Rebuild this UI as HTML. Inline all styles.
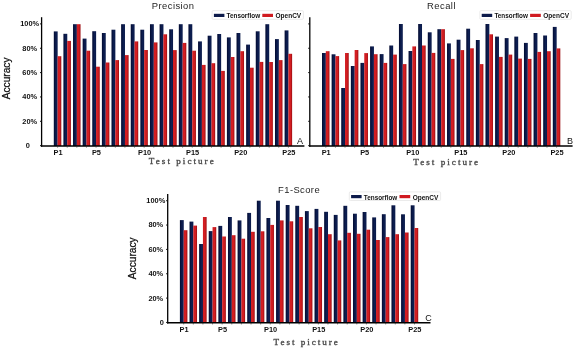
<!DOCTYPE html>
<html><head><meta charset="utf-8"><style>
html,body{margin:0;padding:0;background:#fff;width:575px;height:349px;overflow:hidden}
svg{display:block;will-change:transform}
.tk{font-family:"Liberation Sans",sans-serif;font-weight:bold;font-size:7.4px;fill:#111}
.ti{font-family:"Liberation Sans",sans-serif;font-size:9.4px;fill:#1e1e1e}
.sl{font-family:"Liberation Sans",sans-serif;font-size:9px;fill:#111}
.lg{font-family:"Liberation Sans",sans-serif;font-weight:bold;font-size:7px;fill:#111}
.ac{font-family:"Liberation Sans",sans-serif;font-size:10.2px;fill:#111;stroke:#111;stroke-width:0.25px}
.xt{font-family:"Liberation Serif",serif;font-size:9.1px;fill:#4a4a4a;stroke:#4a4a4a;stroke-width:0.35px}
</style></head><body>
<svg width="575" height="349" viewBox="0 0 575 349">
<defs><linearGradient id="gn" x1="0" x2="1" y1="0" y2="0"><stop offset="0" stop-color="#020a30"/><stop offset="0.6" stop-color="#0e1f52"/><stop offset="1" stop-color="#0a1a4a"/></linearGradient><linearGradient id="gr" x1="0" x2="1" y1="0" y2="0"><stop offset="0" stop-color="#d01c22"/><stop offset="0.55" stop-color="#d41e22"/><stop offset="1" stop-color="#9c0c10"/></linearGradient></defs>
<rect width="575" height="349" fill="#fff"/>
<rect x="53.8" y="31.4" width="3.85" height="114.6" fill="url(#gn)"/>
<rect x="57.6" y="56.2" width="3.7" height="89.8" fill="url(#gr)"/>
<rect x="63.42" y="33.8" width="3.85" height="112.2" fill="url(#gn)"/>
<rect x="67.22" y="40.9" width="3.7" height="105.1" fill="url(#gr)"/>
<rect x="73.03" y="24.2" width="3.85" height="121.8" fill="url(#gn)"/>
<rect x="76.83" y="24.2" width="3.7" height="121.8" fill="url(#gr)"/>
<rect x="82.65" y="38.6" width="3.85" height="107.4" fill="url(#gn)"/>
<rect x="86.45" y="50.7" width="3.7" height="95.3" fill="url(#gr)"/>
<rect x="92.27" y="31.2" width="3.85" height="114.8" fill="url(#gn)"/>
<rect x="96.07" y="66.7" width="3.7" height="79.3" fill="url(#gr)"/>
<rect x="101.89" y="33" width="3.85" height="113" fill="url(#gn)"/>
<rect x="105.69" y="62.5" width="3.7" height="83.5" fill="url(#gr)"/>
<rect x="111.5" y="29.7" width="3.85" height="116.3" fill="url(#gn)"/>
<rect x="115.3" y="60.1" width="3.7" height="85.9" fill="url(#gr)"/>
<rect x="121.12" y="24.2" width="3.85" height="121.8" fill="url(#gn)"/>
<rect x="124.92" y="55.1" width="3.7" height="90.9" fill="url(#gr)"/>
<rect x="130.74" y="24.2" width="3.85" height="121.8" fill="url(#gn)"/>
<rect x="134.54" y="41.4" width="3.7" height="104.6" fill="url(#gr)"/>
<rect x="140.35" y="29.7" width="3.85" height="116.3" fill="url(#gn)"/>
<rect x="144.15" y="50" width="3.7" height="96" fill="url(#gr)"/>
<rect x="149.97" y="24.2" width="3.85" height="121.8" fill="url(#gn)"/>
<rect x="153.77" y="42.4" width="3.7" height="103.6" fill="url(#gr)"/>
<rect x="159.59" y="24.2" width="3.85" height="121.8" fill="url(#gn)"/>
<rect x="163.39" y="34.3" width="3.7" height="111.7" fill="url(#gr)"/>
<rect x="169.2" y="29.3" width="3.85" height="116.7" fill="url(#gn)"/>
<rect x="173" y="50.1" width="3.7" height="95.9" fill="url(#gr)"/>
<rect x="178.82" y="24.2" width="3.85" height="121.8" fill="url(#gn)"/>
<rect x="182.62" y="42.9" width="3.7" height="103.1" fill="url(#gr)"/>
<rect x="188.44" y="24.2" width="3.85" height="121.8" fill="url(#gn)"/>
<rect x="192.24" y="50.7" width="3.7" height="95.3" fill="url(#gr)"/>
<rect x="198.06" y="41.4" width="3.85" height="104.6" fill="url(#gn)"/>
<rect x="201.86" y="64.9" width="3.7" height="81.1" fill="url(#gr)"/>
<rect x="207.67" y="35.7" width="3.85" height="110.3" fill="url(#gn)"/>
<rect x="211.47" y="63.2" width="3.7" height="82.8" fill="url(#gr)"/>
<rect x="217.29" y="34" width="3.85" height="112" fill="url(#gn)"/>
<rect x="221.09" y="70.9" width="3.7" height="75.1" fill="url(#gr)"/>
<rect x="226.91" y="37.4" width="3.85" height="108.6" fill="url(#gn)"/>
<rect x="230.71" y="57" width="3.7" height="89" fill="url(#gr)"/>
<rect x="236.52" y="33" width="3.85" height="113" fill="url(#gn)"/>
<rect x="240.32" y="51.2" width="3.7" height="94.8" fill="url(#gr)"/>
<rect x="246.14" y="44.6" width="3.85" height="101.4" fill="url(#gn)"/>
<rect x="249.94" y="67.7" width="3.7" height="78.3" fill="url(#gr)"/>
<rect x="255.76" y="31.3" width="3.85" height="114.7" fill="url(#gn)"/>
<rect x="259.56" y="61.9" width="3.7" height="84.1" fill="url(#gr)"/>
<rect x="265.37" y="24.2" width="3.85" height="121.8" fill="url(#gn)"/>
<rect x="269.17" y="62" width="3.7" height="84" fill="url(#gr)"/>
<rect x="274.99" y="39.1" width="3.85" height="106.9" fill="url(#gn)"/>
<rect x="278.79" y="60.1" width="3.7" height="85.9" fill="url(#gr)"/>
<rect x="284.61" y="30.4" width="3.85" height="115.6" fill="url(#gn)"/>
<rect x="288.41" y="53.8" width="3.7" height="92.2" fill="url(#gr)"/>
<line x1="41.6" y1="17.2" x2="41.6" y2="146.7" stroke="#000" stroke-width="1.3"/>
<line x1="40.95" y1="146" x2="304.4" y2="146" stroke="#000" stroke-width="1.4"/>
<line x1="57.6" y1="146" x2="57.6" y2="147.6" stroke="#333" stroke-width="0.7"/>
<line x1="67.22" y1="146" x2="67.22" y2="147.6" stroke="#333" stroke-width="0.7"/>
<line x1="76.83" y1="146" x2="76.83" y2="147.6" stroke="#333" stroke-width="0.7"/>
<line x1="86.45" y1="146" x2="86.45" y2="147.6" stroke="#333" stroke-width="0.7"/>
<line x1="96.07" y1="146" x2="96.07" y2="147.6" stroke="#333" stroke-width="0.7"/>
<line x1="105.69" y1="146" x2="105.69" y2="147.6" stroke="#333" stroke-width="0.7"/>
<line x1="115.3" y1="146" x2="115.3" y2="147.6" stroke="#333" stroke-width="0.7"/>
<line x1="124.92" y1="146" x2="124.92" y2="147.6" stroke="#333" stroke-width="0.7"/>
<line x1="134.54" y1="146" x2="134.54" y2="147.6" stroke="#333" stroke-width="0.7"/>
<line x1="144.15" y1="146" x2="144.15" y2="147.6" stroke="#333" stroke-width="0.7"/>
<line x1="153.77" y1="146" x2="153.77" y2="147.6" stroke="#333" stroke-width="0.7"/>
<line x1="163.39" y1="146" x2="163.39" y2="147.6" stroke="#333" stroke-width="0.7"/>
<line x1="173" y1="146" x2="173" y2="147.6" stroke="#333" stroke-width="0.7"/>
<line x1="182.62" y1="146" x2="182.62" y2="147.6" stroke="#333" stroke-width="0.7"/>
<line x1="192.24" y1="146" x2="192.24" y2="147.6" stroke="#333" stroke-width="0.7"/>
<line x1="201.86" y1="146" x2="201.86" y2="147.6" stroke="#333" stroke-width="0.7"/>
<line x1="211.47" y1="146" x2="211.47" y2="147.6" stroke="#333" stroke-width="0.7"/>
<line x1="221.09" y1="146" x2="221.09" y2="147.6" stroke="#333" stroke-width="0.7"/>
<line x1="230.71" y1="146" x2="230.71" y2="147.6" stroke="#333" stroke-width="0.7"/>
<line x1="240.32" y1="146" x2="240.32" y2="147.6" stroke="#333" stroke-width="0.7"/>
<line x1="249.94" y1="146" x2="249.94" y2="147.6" stroke="#333" stroke-width="0.7"/>
<line x1="259.56" y1="146" x2="259.56" y2="147.6" stroke="#333" stroke-width="0.7"/>
<line x1="269.17" y1="146" x2="269.17" y2="147.6" stroke="#333" stroke-width="0.7"/>
<line x1="278.79" y1="146" x2="278.79" y2="147.6" stroke="#333" stroke-width="0.7"/>
<line x1="288.41" y1="146" x2="288.41" y2="147.6" stroke="#333" stroke-width="0.7"/>
<line x1="40" y1="23.9" x2="41.6" y2="23.9" stroke="#111" stroke-width="1"/>
<line x1="40" y1="48.25" x2="41.6" y2="48.25" stroke="#111" stroke-width="1"/>
<line x1="40" y1="72.6" x2="41.6" y2="72.6" stroke="#111" stroke-width="1"/>
<line x1="40" y1="96.95" x2="41.6" y2="96.95" stroke="#111" stroke-width="1"/>
<line x1="40" y1="121.3" x2="41.6" y2="121.3" stroke="#111" stroke-width="1"/>
<line x1="40" y1="145.65" x2="41.6" y2="145.65" stroke="#111" stroke-width="1"/>
<text x="58" y="154.5" class="tk" text-anchor="middle">P1</text>
<text x="96.47" y="154.5" class="tk" text-anchor="middle">P5</text>
<text x="144.55" y="154.5" class="tk" text-anchor="middle">P10</text>
<text x="192.64" y="154.5" class="tk" text-anchor="middle">P15</text>
<text x="240.72" y="154.5" class="tk" text-anchor="middle">P20</text>
<text x="288.81" y="154.5" class="tk" text-anchor="middle">P25</text>
<text x="29.7" y="26.2" class="tk" text-anchor="middle">100%</text>
<text x="29.7" y="50.58" class="tk" text-anchor="middle">80%</text>
<text x="29.7" y="74.96" class="tk" text-anchor="middle">60%</text>
<text x="29.7" y="99.34" class="tk" text-anchor="middle">40%</text>
<text x="29.7" y="123.72" class="tk" text-anchor="middle">20%</text>
<text x="27.9" y="148.1" class="tk" text-anchor="middle">0</text>
<rect x="322" y="53" width="3.85" height="93" fill="url(#gn)"/>
<rect x="325.8" y="51.2" width="3.7" height="94.8" fill="url(#gr)"/>
<rect x="331.62" y="54.3" width="3.85" height="91.7" fill="url(#gn)"/>
<rect x="335.42" y="56.1" width="3.7" height="89.9" fill="url(#gr)"/>
<rect x="341.23" y="88" width="3.85" height="58" fill="url(#gn)"/>
<rect x="345.03" y="53" width="3.7" height="93" fill="url(#gr)"/>
<rect x="350.85" y="66" width="3.85" height="80" fill="url(#gn)"/>
<rect x="354.65" y="50" width="3.7" height="96" fill="url(#gr)"/>
<rect x="360.47" y="62.9" width="3.85" height="83.1" fill="url(#gn)"/>
<rect x="364.27" y="53.1" width="3.7" height="92.9" fill="url(#gr)"/>
<rect x="370.08" y="46.4" width="3.85" height="99.6" fill="url(#gn)"/>
<rect x="373.88" y="54.2" width="3.7" height="91.8" fill="url(#gr)"/>
<rect x="379.7" y="54.1" width="3.85" height="91.9" fill="url(#gn)"/>
<rect x="383.5" y="62.9" width="3.7" height="83.1" fill="url(#gr)"/>
<rect x="389.32" y="45.5" width="3.85" height="100.5" fill="url(#gn)"/>
<rect x="393.12" y="54.6" width="3.7" height="91.4" fill="url(#gr)"/>
<rect x="398.94" y="24" width="3.85" height="122" fill="url(#gn)"/>
<rect x="402.74" y="64.1" width="3.7" height="81.9" fill="url(#gr)"/>
<rect x="408.55" y="51" width="3.85" height="95" fill="url(#gn)"/>
<rect x="412.35" y="46.4" width="3.7" height="99.6" fill="url(#gr)"/>
<rect x="418.17" y="24" width="3.85" height="122" fill="url(#gn)"/>
<rect x="421.97" y="45.5" width="3.7" height="100.5" fill="url(#gr)"/>
<rect x="427.79" y="32.3" width="3.85" height="113.7" fill="url(#gn)"/>
<rect x="431.59" y="52.9" width="3.7" height="93.1" fill="url(#gr)"/>
<rect x="437.4" y="29.2" width="3.85" height="116.8" fill="url(#gn)"/>
<rect x="441.2" y="29.2" width="3.7" height="116.8" fill="url(#gr)"/>
<rect x="447.02" y="43.4" width="3.85" height="102.6" fill="url(#gn)"/>
<rect x="450.82" y="58.9" width="3.7" height="87.1" fill="url(#gr)"/>
<rect x="456.64" y="39.7" width="3.85" height="106.3" fill="url(#gn)"/>
<rect x="460.44" y="50.1" width="3.7" height="95.9" fill="url(#gr)"/>
<rect x="466.26" y="28.7" width="3.85" height="117.3" fill="url(#gn)"/>
<rect x="470.06" y="48.3" width="3.7" height="97.7" fill="url(#gr)"/>
<rect x="475.87" y="40" width="3.85" height="106" fill="url(#gn)"/>
<rect x="479.67" y="64.1" width="3.7" height="81.9" fill="url(#gr)"/>
<rect x="485.49" y="24" width="3.85" height="122" fill="url(#gn)"/>
<rect x="489.29" y="34.3" width="3.7" height="111.7" fill="url(#gr)"/>
<rect x="495.11" y="36.6" width="3.85" height="109.4" fill="url(#gn)"/>
<rect x="498.91" y="56.9" width="3.7" height="89.1" fill="url(#gr)"/>
<rect x="504.72" y="38.1" width="3.85" height="107.9" fill="url(#gn)"/>
<rect x="508.52" y="54.6" width="3.7" height="91.4" fill="url(#gr)"/>
<rect x="514.34" y="36.6" width="3.85" height="109.4" fill="url(#gn)"/>
<rect x="518.14" y="58.6" width="3.7" height="87.4" fill="url(#gr)"/>
<rect x="523.96" y="42.9" width="3.85" height="103.1" fill="url(#gn)"/>
<rect x="527.76" y="58.9" width="3.7" height="87.1" fill="url(#gr)"/>
<rect x="533.57" y="33" width="3.85" height="113" fill="url(#gn)"/>
<rect x="537.37" y="51.9" width="3.7" height="94.1" fill="url(#gr)"/>
<rect x="543.19" y="35.5" width="3.85" height="110.5" fill="url(#gn)"/>
<rect x="546.99" y="51.2" width="3.7" height="94.8" fill="url(#gr)"/>
<rect x="552.81" y="26.9" width="3.85" height="119.1" fill="url(#gn)"/>
<rect x="556.61" y="48.4" width="3.7" height="97.6" fill="url(#gr)"/>
<line x1="309.8" y1="17.2" x2="309.8" y2="146.7" stroke="#000" stroke-width="1.3"/>
<line x1="309.15" y1="146" x2="572.6" y2="146" stroke="#000" stroke-width="1.4"/>
<line x1="325.8" y1="146" x2="325.8" y2="147.6" stroke="#333" stroke-width="0.7"/>
<line x1="335.42" y1="146" x2="335.42" y2="147.6" stroke="#333" stroke-width="0.7"/>
<line x1="345.03" y1="146" x2="345.03" y2="147.6" stroke="#333" stroke-width="0.7"/>
<line x1="354.65" y1="146" x2="354.65" y2="147.6" stroke="#333" stroke-width="0.7"/>
<line x1="364.27" y1="146" x2="364.27" y2="147.6" stroke="#333" stroke-width="0.7"/>
<line x1="373.88" y1="146" x2="373.88" y2="147.6" stroke="#333" stroke-width="0.7"/>
<line x1="383.5" y1="146" x2="383.5" y2="147.6" stroke="#333" stroke-width="0.7"/>
<line x1="393.12" y1="146" x2="393.12" y2="147.6" stroke="#333" stroke-width="0.7"/>
<line x1="402.74" y1="146" x2="402.74" y2="147.6" stroke="#333" stroke-width="0.7"/>
<line x1="412.35" y1="146" x2="412.35" y2="147.6" stroke="#333" stroke-width="0.7"/>
<line x1="421.97" y1="146" x2="421.97" y2="147.6" stroke="#333" stroke-width="0.7"/>
<line x1="431.59" y1="146" x2="431.59" y2="147.6" stroke="#333" stroke-width="0.7"/>
<line x1="441.2" y1="146" x2="441.2" y2="147.6" stroke="#333" stroke-width="0.7"/>
<line x1="450.82" y1="146" x2="450.82" y2="147.6" stroke="#333" stroke-width="0.7"/>
<line x1="460.44" y1="146" x2="460.44" y2="147.6" stroke="#333" stroke-width="0.7"/>
<line x1="470.06" y1="146" x2="470.06" y2="147.6" stroke="#333" stroke-width="0.7"/>
<line x1="479.67" y1="146" x2="479.67" y2="147.6" stroke="#333" stroke-width="0.7"/>
<line x1="489.29" y1="146" x2="489.29" y2="147.6" stroke="#333" stroke-width="0.7"/>
<line x1="498.91" y1="146" x2="498.91" y2="147.6" stroke="#333" stroke-width="0.7"/>
<line x1="508.52" y1="146" x2="508.52" y2="147.6" stroke="#333" stroke-width="0.7"/>
<line x1="518.14" y1="146" x2="518.14" y2="147.6" stroke="#333" stroke-width="0.7"/>
<line x1="527.76" y1="146" x2="527.76" y2="147.6" stroke="#333" stroke-width="0.7"/>
<line x1="537.37" y1="146" x2="537.37" y2="147.6" stroke="#333" stroke-width="0.7"/>
<line x1="546.99" y1="146" x2="546.99" y2="147.6" stroke="#333" stroke-width="0.7"/>
<line x1="556.61" y1="146" x2="556.61" y2="147.6" stroke="#333" stroke-width="0.7"/>
<line x1="308.2" y1="23.9" x2="309.8" y2="23.9" stroke="#111" stroke-width="1"/>
<line x1="308.2" y1="48.25" x2="309.8" y2="48.25" stroke="#111" stroke-width="1"/>
<line x1="308.2" y1="72.6" x2="309.8" y2="72.6" stroke="#111" stroke-width="1"/>
<line x1="308.2" y1="96.95" x2="309.8" y2="96.95" stroke="#111" stroke-width="1"/>
<line x1="308.2" y1="121.3" x2="309.8" y2="121.3" stroke="#111" stroke-width="1"/>
<line x1="308.2" y1="145.65" x2="309.8" y2="145.65" stroke="#111" stroke-width="1"/>
<text x="326.2" y="154.5" class="tk" text-anchor="middle">P1</text>
<text x="364.67" y="154.5" class="tk" text-anchor="middle">P5</text>
<text x="412.75" y="154.5" class="tk" text-anchor="middle">P10</text>
<text x="460.84" y="154.5" class="tk" text-anchor="middle">P15</text>
<text x="508.92" y="154.5" class="tk" text-anchor="middle">P20</text>
<text x="557.01" y="154.5" class="tk" text-anchor="middle">P25</text>
<rect x="179.9" y="220.1" width="3.85" height="102.7" fill="url(#gn)"/>
<rect x="183.7" y="230.2" width="3.7" height="92.6" fill="url(#gr)"/>
<rect x="189.52" y="221.6" width="3.85" height="101.2" fill="url(#gn)"/>
<rect x="193.32" y="225.6" width="3.7" height="97.2" fill="url(#gr)"/>
<rect x="199.13" y="244" width="3.85" height="78.8" fill="url(#gn)"/>
<rect x="202.93" y="217" width="3.7" height="105.8" fill="url(#gr)"/>
<rect x="208.75" y="231.1" width="3.85" height="91.7" fill="url(#gn)"/>
<rect x="212.55" y="227.1" width="3.7" height="95.7" fill="url(#gr)"/>
<rect x="218.37" y="225.9" width="3.85" height="96.9" fill="url(#gn)"/>
<rect x="222.17" y="236.5" width="3.7" height="86.3" fill="url(#gr)"/>
<rect x="227.98" y="217" width="3.85" height="105.8" fill="url(#gn)"/>
<rect x="231.78" y="235.2" width="3.7" height="87.6" fill="url(#gr)"/>
<rect x="237.6" y="220.4" width="3.85" height="102.4" fill="url(#gn)"/>
<rect x="241.4" y="238.7" width="3.7" height="84.1" fill="url(#gr)"/>
<rect x="247.22" y="212.9" width="3.85" height="109.9" fill="url(#gn)"/>
<rect x="251.02" y="231.8" width="3.7" height="91" fill="url(#gr)"/>
<rect x="256.84" y="200.7" width="3.85" height="122.1" fill="url(#gn)"/>
<rect x="260.64" y="231.3" width="3.7" height="91.5" fill="url(#gr)"/>
<rect x="266.45" y="218" width="3.85" height="104.8" fill="url(#gn)"/>
<rect x="270.25" y="224.9" width="3.7" height="97.9" fill="url(#gr)"/>
<rect x="276.07" y="200.7" width="3.85" height="122.1" fill="url(#gn)"/>
<rect x="279.87" y="220.4" width="3.7" height="102.4" fill="url(#gr)"/>
<rect x="285.69" y="205" width="3.85" height="117.8" fill="url(#gn)"/>
<rect x="289.49" y="221.3" width="3.7" height="101.5" fill="url(#gr)"/>
<rect x="295.3" y="205.8" width="3.85" height="117" fill="url(#gn)"/>
<rect x="299.1" y="217" width="3.7" height="105.8" fill="url(#gr)"/>
<rect x="304.92" y="211.1" width="3.85" height="111.7" fill="url(#gn)"/>
<rect x="308.72" y="228.3" width="3.7" height="94.5" fill="url(#gr)"/>
<rect x="314.54" y="208.9" width="3.85" height="113.9" fill="url(#gn)"/>
<rect x="318.34" y="227" width="3.7" height="95.8" fill="url(#gr)"/>
<rect x="324.16" y="211.8" width="3.85" height="111" fill="url(#gn)"/>
<rect x="327.96" y="234.2" width="3.7" height="88.6" fill="url(#gr)"/>
<rect x="333.77" y="214.9" width="3.85" height="107.9" fill="url(#gn)"/>
<rect x="337.57" y="240.4" width="3.7" height="82.4" fill="url(#gr)"/>
<rect x="343.39" y="205.8" width="3.85" height="117" fill="url(#gn)"/>
<rect x="347.19" y="232.8" width="3.7" height="90" fill="url(#gr)"/>
<rect x="353.01" y="213.7" width="3.85" height="109.1" fill="url(#gn)"/>
<rect x="356.81" y="233.8" width="3.7" height="89" fill="url(#gr)"/>
<rect x="362.62" y="212" width="3.85" height="110.8" fill="url(#gn)"/>
<rect x="366.42" y="229.7" width="3.7" height="93.1" fill="url(#gr)"/>
<rect x="372.24" y="217.4" width="3.85" height="105.4" fill="url(#gn)"/>
<rect x="376.04" y="240" width="3.7" height="82.8" fill="url(#gr)"/>
<rect x="381.86" y="214.2" width="3.85" height="108.6" fill="url(#gn)"/>
<rect x="385.66" y="237.1" width="3.7" height="85.7" fill="url(#gr)"/>
<rect x="391.47" y="205.3" width="3.85" height="117.5" fill="url(#gn)"/>
<rect x="395.27" y="234.2" width="3.7" height="88.6" fill="url(#gr)"/>
<rect x="401.09" y="214.3" width="3.85" height="108.5" fill="url(#gn)"/>
<rect x="404.89" y="232.5" width="3.7" height="90.3" fill="url(#gr)"/>
<rect x="410.71" y="205.3" width="3.85" height="117.5" fill="url(#gn)"/>
<rect x="414.51" y="228" width="3.7" height="94.8" fill="url(#gr)"/>
<line x1="167.7" y1="194" x2="167.7" y2="323.5" stroke="#000" stroke-width="1.3"/>
<line x1="167.05" y1="322.8" x2="430.5" y2="322.8" stroke="#000" stroke-width="1.4"/>
<line x1="183.7" y1="322.8" x2="183.7" y2="324.4" stroke="#333" stroke-width="0.7"/>
<line x1="193.32" y1="322.8" x2="193.32" y2="324.4" stroke="#333" stroke-width="0.7"/>
<line x1="202.93" y1="322.8" x2="202.93" y2="324.4" stroke="#333" stroke-width="0.7"/>
<line x1="212.55" y1="322.8" x2="212.55" y2="324.4" stroke="#333" stroke-width="0.7"/>
<line x1="222.17" y1="322.8" x2="222.17" y2="324.4" stroke="#333" stroke-width="0.7"/>
<line x1="231.78" y1="322.8" x2="231.78" y2="324.4" stroke="#333" stroke-width="0.7"/>
<line x1="241.4" y1="322.8" x2="241.4" y2="324.4" stroke="#333" stroke-width="0.7"/>
<line x1="251.02" y1="322.8" x2="251.02" y2="324.4" stroke="#333" stroke-width="0.7"/>
<line x1="260.64" y1="322.8" x2="260.64" y2="324.4" stroke="#333" stroke-width="0.7"/>
<line x1="270.25" y1="322.8" x2="270.25" y2="324.4" stroke="#333" stroke-width="0.7"/>
<line x1="279.87" y1="322.8" x2="279.87" y2="324.4" stroke="#333" stroke-width="0.7"/>
<line x1="289.49" y1="322.8" x2="289.49" y2="324.4" stroke="#333" stroke-width="0.7"/>
<line x1="299.1" y1="322.8" x2="299.1" y2="324.4" stroke="#333" stroke-width="0.7"/>
<line x1="308.72" y1="322.8" x2="308.72" y2="324.4" stroke="#333" stroke-width="0.7"/>
<line x1="318.34" y1="322.8" x2="318.34" y2="324.4" stroke="#333" stroke-width="0.7"/>
<line x1="327.96" y1="322.8" x2="327.96" y2="324.4" stroke="#333" stroke-width="0.7"/>
<line x1="337.57" y1="322.8" x2="337.57" y2="324.4" stroke="#333" stroke-width="0.7"/>
<line x1="347.19" y1="322.8" x2="347.19" y2="324.4" stroke="#333" stroke-width="0.7"/>
<line x1="356.81" y1="322.8" x2="356.81" y2="324.4" stroke="#333" stroke-width="0.7"/>
<line x1="366.42" y1="322.8" x2="366.42" y2="324.4" stroke="#333" stroke-width="0.7"/>
<line x1="376.04" y1="322.8" x2="376.04" y2="324.4" stroke="#333" stroke-width="0.7"/>
<line x1="385.66" y1="322.8" x2="385.66" y2="324.4" stroke="#333" stroke-width="0.7"/>
<line x1="395.27" y1="322.8" x2="395.27" y2="324.4" stroke="#333" stroke-width="0.7"/>
<line x1="404.89" y1="322.8" x2="404.89" y2="324.4" stroke="#333" stroke-width="0.7"/>
<line x1="414.51" y1="322.8" x2="414.51" y2="324.4" stroke="#333" stroke-width="0.7"/>
<line x1="166.1" y1="200.7" x2="167.7" y2="200.7" stroke="#111" stroke-width="1"/>
<line x1="166.1" y1="225.05" x2="167.7" y2="225.05" stroke="#111" stroke-width="1"/>
<line x1="166.1" y1="249.4" x2="167.7" y2="249.4" stroke="#111" stroke-width="1"/>
<line x1="166.1" y1="273.75" x2="167.7" y2="273.75" stroke="#111" stroke-width="1"/>
<line x1="166.1" y1="298.1" x2="167.7" y2="298.1" stroke="#111" stroke-width="1"/>
<line x1="166.1" y1="322.45" x2="167.7" y2="322.45" stroke="#111" stroke-width="1"/>
<text x="184.1" y="332.3" class="tk" text-anchor="middle">P1</text>
<text x="222.57" y="332.3" class="tk" text-anchor="middle">P5</text>
<text x="270.65" y="332.3" class="tk" text-anchor="middle">P10</text>
<text x="318.74" y="332.3" class="tk" text-anchor="middle">P15</text>
<text x="366.82" y="332.3" class="tk" text-anchor="middle">P20</text>
<text x="414.91" y="332.3" class="tk" text-anchor="middle">P25</text>
<text x="155.8" y="203" class="tk" text-anchor="middle">100%</text>
<text x="155.8" y="227.38" class="tk" text-anchor="middle">80%</text>
<text x="155.8" y="251.76" class="tk" text-anchor="middle">60%</text>
<text x="155.8" y="276.14" class="tk" text-anchor="middle">40%</text>
<text x="155.8" y="300.52" class="tk" text-anchor="middle">20%</text>
<text x="161.9" y="324.9" class="tk" text-anchor="middle">0</text>
<text x="151.8" y="8.6" class="ti" textLength="42.2" lengthAdjust="spacing">Precision</text>
<text x="427" y="8.6" class="ti" textLength="28.5" lengthAdjust="spacing">Recall</text>
<text x="278.1" y="192.7" class="ti" textLength="41.5" lengthAdjust="spacing">F1-Score</text>
<rect x="212.1" y="10.7" width="91.3" height="8.6" fill="#fff" stroke="#e6e6e6" stroke-width="0.8" rx="1"/>
<rect x="213.9" y="13.8" width="10.5" height="3.2" fill="#0c1a4a"/>
<text x="226.6" y="18.3" class="lg" textLength="33.5" lengthAdjust="spacingAndGlyphs">Tensorflow</text>
<rect x="262.3" y="13.8" width="10.7" height="3.2" fill="#d01a20"/>
<text x="275.5" y="18.4" class="lg" textLength="25.7" lengthAdjust="spacingAndGlyphs">OpenCV</text>
<rect x="479.9" y="10.7" width="91.3" height="8.6" fill="#fff" stroke="#e6e6e6" stroke-width="0.8" rx="1"/>
<rect x="481.7" y="13.8" width="10.5" height="3.2" fill="#0c1a4a"/>
<text x="494.4" y="18.3" class="lg" textLength="33.5" lengthAdjust="spacingAndGlyphs">Tensorflow</text>
<rect x="530.1" y="13.8" width="10.7" height="3.2" fill="#d01a20"/>
<text x="543.3" y="18.4" class="lg" textLength="25.7" lengthAdjust="spacingAndGlyphs">OpenCV</text>
<rect x="349.3" y="191.9" width="91.3" height="8.6" fill="#fff" stroke="#e6e6e6" stroke-width="0.8" rx="1"/>
<rect x="351.1" y="195" width="10.5" height="3.2" fill="#0c1a4a"/>
<text x="363.8" y="199.5" class="lg" textLength="33.5" lengthAdjust="spacingAndGlyphs">Tensorflow</text>
<rect x="399.5" y="195" width="10.7" height="3.2" fill="#d01a20"/>
<text x="412.7" y="199.6" class="lg" textLength="25.7" lengthAdjust="spacingAndGlyphs">OpenCV</text>
<text x="297" y="143.8" class="sl">A</text>
<text x="567" y="143.9" class="sl">B</text>
<text x="425.2" y="321.3" class="sl">C</text>
<text transform="translate(10.1,78.4) rotate(-90)" class="ac" text-anchor="middle">Accuracy</text>
<text transform="translate(136.1,258.3) rotate(-90)" class="ac" text-anchor="middle">Accuracy</text>
<text x="148.8" y="163.9" class="xt" textLength="64.9" lengthAdjust="spacing">Test picture</text>
<text x="413.3" y="164.8" class="xt" textLength="64.8" lengthAdjust="spacing">Test picture</text>
<text x="273.5" y="345.1" class="xt" textLength="64.3" lengthAdjust="spacing">Test picture</text>
</svg>
</body></html>
